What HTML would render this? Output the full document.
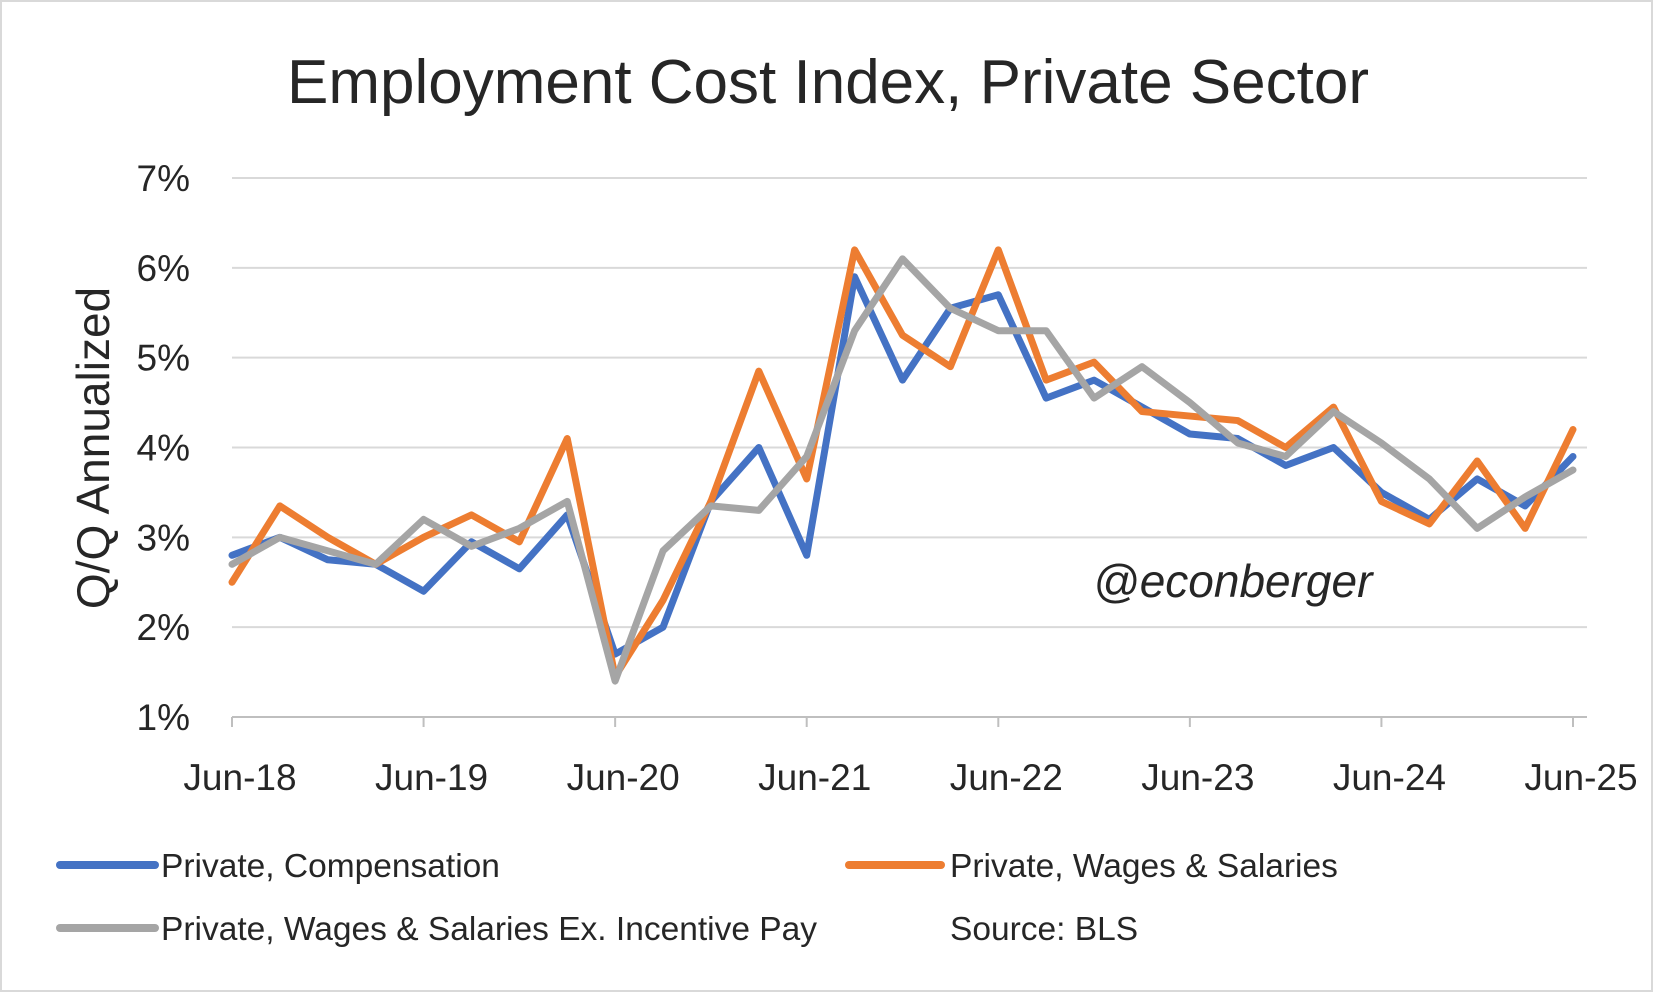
<!DOCTYPE html>
<html><head><meta charset="utf-8">
<style>
html,body{margin:0;padding:0;background:#fff;}
svg{display:block;font-family:"Liberation Sans","DejaVu Sans",sans-serif;}
</style></head>
<body>
<svg id="chart" width="1653" height="992" viewBox="0 0 1653 992">
<rect x="1" y="1" width="1651" height="990" fill="#fff" stroke="#d9d9d9" stroke-width="2"/>
<text x="828" y="103" text-anchor="middle" font-size="62" fill="#262626">Employment Cost Index, Private Sector</text>
<text transform="translate(109,448) rotate(-90)" text-anchor="middle" font-size="46" fill="#262626">Q/Q Annualized</text>
<g id="grid"></g><g id="yticks"></g><g id="xticks"></g><g id="series"></g>
<text x="1093" y="597" font-size="46" font-style="italic" fill="#262626">@econberger</text>
<g>
<line x1="60" y1="865" x2="155" y2="865" stroke="#4472C4" stroke-width="8" stroke-linecap="round"/>
<text x="161" y="877" font-size="33.5" fill="#262626">Private, Compensation</text>
<line x1="849" y1="865" x2="941" y2="865" stroke="#ED7D31" stroke-width="8" stroke-linecap="round"/>
<text x="950" y="877" font-size="33.5" fill="#262626">Private, Wages &amp; Salaries</text>
<line x1="60" y1="928" x2="155" y2="928" stroke="#A5A5A5" stroke-width="8" stroke-linecap="round"/>
<text x="161" y="940" font-size="33.5" fill="#262626">Private, Wages &amp; Salaries Ex. Incentive Pay</text>
<text x="950" y="940" font-size="33.5" fill="#262626">Source: BLS</text>
</g>
</svg>
<script>
const xLabels=["Jun-18","Jun-19","Jun-20","Jun-21","Jun-22","Jun-23","Jun-24","Jun-25"];
const yTicks=[1,2,3,4,5,6,7];
const compensation=[2.8,3.0,2.75,2.7,2.4,2.95,2.65,3.25,1.7,2.0,3.4,4.0,2.8,5.9,4.75,5.55,5.7,4.55,4.75,4.45,4.15,4.1,3.8,4.0,3.5,3.2,3.65,3.35,3.9];
const wages=[2.5,3.35,3.0,2.7,3.0,3.25,2.95,4.1,1.45,2.3,3.4,4.85,3.65,6.2,5.25,4.9,6.2,4.75,4.95,4.4,4.35,4.3,4.0,4.45,3.4,3.15,3.85,3.1,4.2];
const exIncentive=[2.7,3.0,2.85,2.7,3.2,2.9,3.1,3.4,1.4,2.85,3.35,3.3,3.9,5.3,6.1,5.55,5.3,5.3,4.55,4.9,4.5,4.05,3.9,4.4,4.05,3.65,3.1,3.45,3.75];

const NS="http://www.w3.org/2000/svg";
const X0=232,X1=1573,GX1=1587,Y7=178,Y1=717;
const n=compensation.length;
const xs=i=>X0+(X1-X0)*i/(n-1);
const ys=v=>Y1-(v-1)*(Y1-Y7)/6;
function mk(tag,attrs,parent){const e=document.createElementNS(NS,tag);for(const k in attrs)e.setAttribute(k,attrs[k]);parent.appendChild(e);return e;}
const grid=document.getElementById('grid'),yt=document.getElementById('yticks'),xt=document.getElementById('xticks'),ser=document.getElementById('series');
yTicks.forEach(v=>{
  const l=mk('line',{x1:X0,x2:GX1,y1:ys(v),y2:ys(v),stroke:v===1?'#bfbfbf':'#d9d9d9','stroke-width':2},grid);
  
  
  const t=mk('text',{x:190,y:ys(v)+13,'text-anchor':'end','font-size':37,fill:'#262626'},yt);
  t.textContent=v+'%';
  
  
});
xLabels.forEach((s,k)=>{
  const x=xs(k*4);
  const tk=mk('line',{x1:x,x2:x,y1:Y1,y2:Y1+10,stroke:'#bfbfbf','stroke-width':2},xt);
  
  
  const t=mk('text',{x:x+8,y:790,'text-anchor':'middle','font-size':37,fill:'#262626'},xt);
  t.textContent=s;
  
  
});
[[compensation,'#4472C4','series-compensation'],[wages,'#ED7D31','series-wages'],[exIncentive,'#A5A5A5','series-ex-incentive']].forEach(([d,c,name])=>{
  const p=mk('polyline',{points:d.map((v,i)=>xs(i)+','+ys(v)).join(' '),fill:'none',stroke:c,'stroke-width':7,'stroke-linejoin':'round','stroke-linecap':'round'},ser);
  
  
});
</script>
</body></html>
